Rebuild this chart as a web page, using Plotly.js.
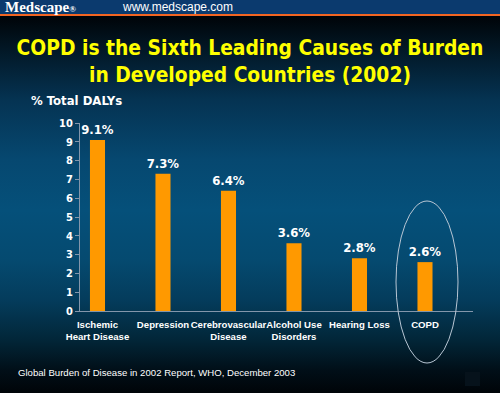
<!DOCTYPE html>
<html>
<head>
<meta charset="utf-8">
<script src="https://cdn.plot.ly/plotly-3.0.1.min.js"></script>
<style>
html, body { margin: 0; padding: 0; background: #000; }
#chart {
  width: 500px; height: 393px;
  background: linear-gradient(to bottom,
    #0b3a6e 0px, #0b3a6e 14px,
    #f26522 14px, #f26522 16px,
    #000408 16px, #021522 45px, #053352 100px,
    #064870 160px, #05507a 210px, #054a70 260px,
    #043c5c 300px, #022638 340px, #010f18 370px, #000408 393px);
}
</style>
</head>
<body>
<div id="chart"></div>
<script>
// ---- data ----
const categories = ['Ischemic<br>Heart Disease', 'Depression', 'Cerebrovascular<br>Disease',
                    'Alcohol Use<br>Disorders', 'Hearing Loss', 'COPD'];
const values = [9.1, 7.3, 6.4, 3.6, 2.8, 2.6];
const yTickValues = [0, 1, 2, 3, 4, 5, 6, 7, 8, 9, 10];
const valueLabels = values.map(v => v.toFixed(1) + '%');

// ---- layout helpers (pixel -> paper) ----
const W = 500, H = 393;
const M = {l: 80, r: 27, t: 123, b: 82};
const PW = W - M.l - M.r, PH = H - M.t - M.b;
const px = x => (x - M.l) / PW;
const py = y => (H - M.b - y) / PH;

const barOffset = 0.267;   // bar centre inside each category slot
const positions = categories.map((c, i) => i + barOffset);
const boundaries = categories.map((c, i) => i).concat([categories.length]);

const axisColor = '#8396ab';
const font = 'DejaVu Sans Condensed, DejaVu Sans, sans-serif';
const labelFont = 'Liberation Sans, Arial, sans-serif';

const trace = {
  type: 'bar',
  x: positions,
  y: values,
  width: 0.23,
  marker: {color: '#FF9900'},
  text: valueLabels,
  textposition: 'outside',
  constraintext: 'none',
  textfont: {family: font, size: 13, color: '#ffffff', weight: 'bold'},
  cliponaxis: false,
  hoverinfo: 'skip'
};

const layout = {
  width: W, height: H,
  margin: M,
  paper_bgcolor: 'rgba(0,0,0,0)',
  plot_bgcolor: 'rgba(0,0,0,0)',
  showlegend: false,
  title: {
    text: 'COPD is the Sixth Leading Causes of Burden<br>in Developed Countries (2002)',
    font: {family: font, size: 20.8, color: '#ffff00', weight: 'bold'},
    x: 0.5, xref: 'container', xanchor: 'center',
    y: 1 - 55 / H, yref: 'container', yanchor: 'middle'
  },
  xaxis: {
    range: [0, categories.length],
    tickvals: positions,
    ticktext: categories,
    tickangle: 0,
    ticks: '',
    ticklabelstandoff: 4,
    showline: true, linecolor: axisColor, linewidth: 1,
    showgrid: false, zeroline: false,
    tickfont: {family: labelFont, size: 9.6, color: '#ffffff', weight: 'bold'},
    fixedrange: true
  },
  xaxis2: {
    overlaying: 'x', anchor: 'y', side: 'bottom',
    range: [0, categories.length],
    tickvals: boundaries,
    ticks: 'outside', ticklen: 4, tickcolor: axisColor,
    showticklabels: false, showline: false, showgrid: false, zeroline: false
  },
  yaxis: {
    range: [0, 10],
    tickvals: yTickValues,
    ticks: 'outside', ticklen: 4, tickcolor: axisColor,
    showline: true, linecolor: axisColor, linewidth: 1,
    showgrid: false, zeroline: false,
    tickfont: {family: font, size: 11, color: '#ffffff', weight: 'bold'},
    fixedrange: true
  },
  annotations: [
    {text: 'Medscape<span style="font-size:9px">®</span>', xref: 'paper', yref: 'paper',
     x: px(3), y: py(7), xanchor: 'left', yanchor: 'middle', showarrow: false,
     font: {family: 'Liberation Serif, serif', size: 15, color: '#ffffff', weight: 'bold'}},
    {text: 'www.medscape.com', xref: 'paper', yref: 'paper',
     x: px(120), y: py(7), xanchor: 'left', yanchor: 'middle', showarrow: false,
     font: {family: 'Liberation Sans, Arial, sans-serif', size: 12, color: '#ffffff'}},
    {text: '% Total DALYs', xref: 'paper', yref: 'paper',
     x: px(29), y: py(100), xanchor: 'left', yanchor: 'middle', showarrow: false,
     font: {family: font, size: 13, color: '#ffffff', weight: 'bold'}},
    {text: 'Global Burden of Disease in 2002 Report, WHO, December 2003', xref: 'paper', yref: 'paper',
     x: px(16), y: py(372), xanchor: 'left', yanchor: 'middle', showarrow: false,
     font: {family: 'Liberation Sans, Arial, sans-serif', size: 9.6, color: '#ffffff'}}
  ],
  shapes: [
    {type: 'circle', xref: 'paper', yref: 'paper',
     x0: px(396), x1: px(458), y0: py(363), y1: py(201),
     line: {color: '#b8c6d4', width: 1}},
    {type: 'rect', xref: 'paper', yref: 'paper',
     x0: px(465), x1: px(480), y0: py(386), y1: py(372),
     fillcolor: '#06121b', line: {width: 0}, layer: 'below'}
  ]
};

Plotly.newPlot('chart', [trace], layout, {displayModeBar: false, staticPlot: true});
</script>
</body>
</html>
